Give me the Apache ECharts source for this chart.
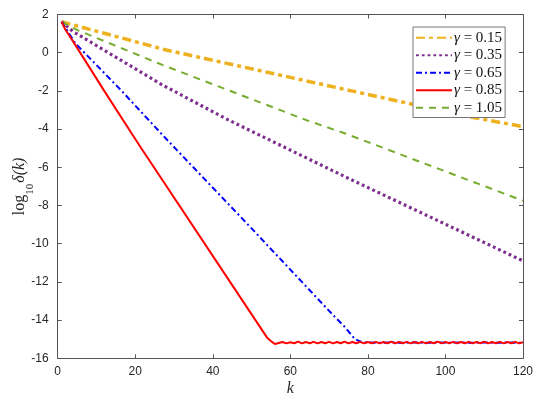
<!DOCTYPE html>
<html><head><meta charset="utf-8">
<script src="https://cdn.jsdelivr.net/npm/echarts@6/dist/echarts.min.js"></script>
<style>html,body{margin:0;padding:0;background:#fff}#c{width:541px;height:405px}</style>
</head><body><div id="c"></div>
<script>
// ---- data ----
const xTicks = [0, 20, 40, 60, 80, 100, 120];
const yTicks = [-16, -14, -12, -10, -8, -6, -4, -2, 0, 2];
const legendNames = ['0.15', '0.35', '0.65', '0.85', '1.05'];

const kG015 = [1, 28, 106, 120];
const vG015 = [1.62, 0.14, -3.35, -3.87];

const kG035 = [1, 4, 27, 44, 75, 120];
const vG035 = [1.62, 1.1, -1.69, -3.52, -6.58, -10.9];

const kG065 = [1, 4.5, 16.5, 27, 50, 71.4, 73.6, 76.7, 78, 79,
  80, 82, 84, 86, 88, 90, 92, 94, 96, 98, 100, 102, 104, 106, 108, 110, 112, 114, 116, 118, 120];
const vG065 = [1.62, 0.5, -2.0, -4.3, -9.2, -13.82, -14.26, -15.0, -15.12, -15.16,
  -15.17, -15.18, -15.18, -15.17, -15.18, -15.18, -15.17, -15.18, -15.18, -15.17, -15.18, -15.18, -15.17, -15.18, -15.18, -15.17, -15.18, -15.18, -15.17, -15.18, -15.18];

const kG085 = [1, 2, 4, 12, 21, 51, 54, 55, 56,
  57, 58, 59, 60, 61, 62, 63, 64, 65, 66, 67, 68, 69, 70, 71, 72, 73, 74, 75, 76, 77, 78, 79, 80,
  81, 82, 83, 84, 85, 86, 87, 88, 89, 90, 91, 92, 93, 94, 95, 96, 97, 98, 99, 100,
  101, 102, 103, 104, 105, 106, 107, 108, 109, 110, 111, 112, 113, 114, 115, 116, 117, 118, 119, 120];
const vG085 = [1.62, 1.2, 0.58, -2.0, -4.83, -14.0, -14.92, -15.1, -15.25,
  -15.2, -15.15, -15.22, -15.16, -15.21, -15.13, -15.22, -15.15, -15.21, -15.14, -15.22, -15.15, -15.21, -15.14, -15.22, -15.15, -15.21, -15.13, -15.22, -15.15, -15.21, -15.14, -15.22, -15.15,
  -15.21, -15.14, -15.22, -15.15, -15.21, -15.13, -15.22, -15.15, -15.21, -15.14, -15.22, -15.15, -15.21, -15.14, -15.22, -15.15, -15.21, -15.13, -15.22, -15.15,
  -15.21, -15.14, -15.22, -15.15, -15.21, -15.14, -15.22, -15.15, -15.21, -15.13, -15.22, -15.15, -15.21, -15.14, -15.22, -15.15, -15.21, -15.14, -15.22, -15.16];

const kG105 = [1, 5, 27, 64, 74, 120];
const vG105 = [1.62, 1.19, -0.64, -3.52, -4.22, -7.75];

// ---- chart ----
const zip = (ks, vs) => ks.map((k, i) => [k, vs[i]]);
const axisCol = '#555';
const serif = '"Liberation Serif", "DejaVu Serif", serif';
const sans = '"Liberation Sans", Arial, sans-serif';

function mk(name, ks, vs, color, width, dash, z) {
  return {
    name: name, type: 'line', data: zip(ks, vs), symbol: 'none', z: z,
    lineStyle: { color: color, width: width, type: dash, cap: 'butt' },
    itemStyle: { color: color }
  };
}
const frameAxis = {
  axisLine: { show: true, onZero: false, lineStyle: { color: axisCol, width: 1 } },
  axisTick: { show: true, inside: true, length: 4, lineStyle: { color: axisCol } },
  splitLine: { show: false }
};

const chart = echarts.init(document.getElementById('c'), null, { renderer: 'canvas' });
chart.setOption({
  animation: false,
  backgroundColor: '#fff',
  grid: { left: 57.7, right: 18, top: 14.5, bottom: 46.7, containLabel: false, outerBoundsMode: 'none' },
  xAxis: [Object.assign({
    type: 'value', min: xTicks[0], max: xTicks[xTicks.length - 1], interval: 20,
    name: 'k', nameLocation: 'middle', nameGap: 22, nameMoveOverlap: false,
    nameTextStyle: { fontFamily: serif, fontStyle: 'italic', fontSize: 16, color: '#262626' },
    axisLabel: { margin: 7, fontFamily: sans, fontSize: 12, color: '#262626' }
  }, frameAxis), Object.assign({
    type: 'value', position: 'top', min: 0, max: 120, interval: 20,
    axisLabel: { show: false }
  }, frameAxis)],
  yAxis: [Object.assign({
    type: 'value', min: yTicks[0], max: yTicks[yTicks.length - 1], interval: 2,
    name: '{n|log}{s|10}{d|δ(k)}', nameLocation: 'middle', nameGap: 30, nameRotate: 90,
    nameMoveOverlap: false,
    nameTextStyle: {
      color: '#262626',
      rich: {
        n: { fontFamily: serif, fontSize: 16, color: '#262626' },
        s: { fontFamily: serif, fontSize: 11, color: '#262626', verticalAlign: 'bottom', padding: [0, 1, -8, 0] },
        d: { fontFamily: serif, fontSize: 16, fontStyle: 'italic', color: '#262626' }
      }
    },
    axisLabel: { margin: 9, fontFamily: sans, fontSize: 12, color: '#262626' }
  }, frameAxis), Object.assign({
    type: 'value', position: 'right', min: -16, max: 2, interval: 2,
    axisLabel: { show: false }
  }, frameAxis)],
  legend: {
    orient: 'vertical', left: 413, top: 27,
    backgroundColor: '#fff', borderColor: '#777', borderWidth: 1,
    padding: [2, 3, 1, 2], itemWidth: 36, itemHeight: 12, itemGap: 0,
    itemStyle: { opacity: 0 },
    data: legendNames.map(n => 'g' + n),
    formatter: name => '{g|γ} = ' + name.slice(1),
    textStyle: {
      fontFamily: serif, fontSize: 15, lineHeight: 17.5, color: '#111', padding: [0, 0, 0, -3],
      rich: { g: { fontFamily: serif, fontSize: 15, lineHeight: 17.5, fontStyle: 'italic', color: '#111' } }
    }
  },
  series: [
    mk('g0.15', kG015, vG015, '#EDB120', 3.5, [9, 4, 4, 4], 2),
    mk('g0.35', kG035, vG035, '#7E2F8E', 3.2, [2.8, 3], 2),
    mk('g0.65', kG065, vG065, '#0000FF', 2, [6, 3, 2, 3], 3),
    mk('g0.85', kG085, vG085, '#FF0000', 2, 'solid', 4),
    mk('g1.05', kG105, vG105, '#77AC30', 2, [7, 6], 2)
  ]
});
</script></body></html>
